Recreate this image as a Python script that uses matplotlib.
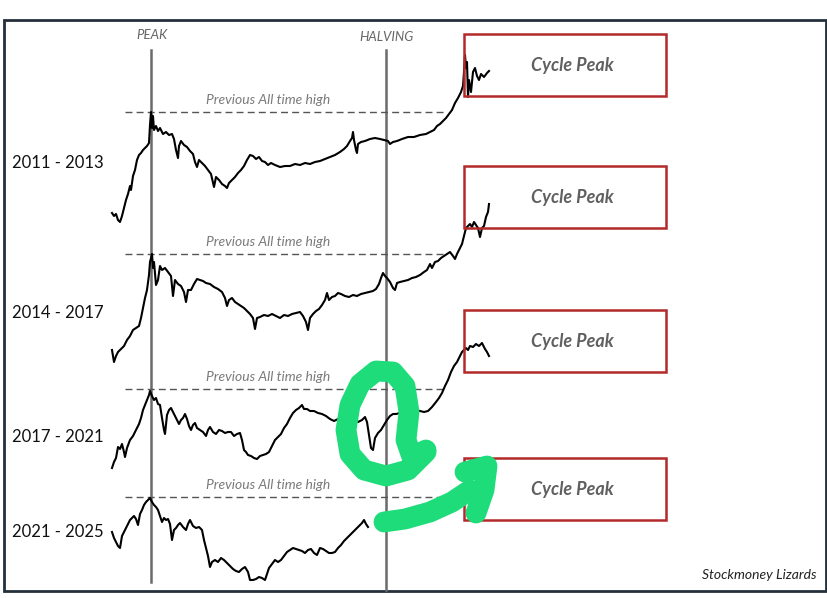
import matplotlib.pyplot as plt
from matplotlib.patches import Rectangle

plt.rcParams['font.family'] = ['Lato', 'DejaVu Sans']

# Price paths of each cycle (picture coordinates, y down)
c1 = [(112, 213), (114, 216), (116, 214), (118, 220), (120, 222), (122, 216), (124, 208), (126, 200),
      (128, 194), (130, 186), (131, 190), (133, 176), (135, 170), (137, 160), (139, 155), (141, 153),
      (143, 150), (145, 148), (147, 146), (149, 143), (150, 125), (151, 112), (152, 128), (153, 116),
      (154, 130), (156, 126), (158, 131), (160, 128), (163, 134), (166, 132), (169, 135), (172, 134),
      (174, 139), (176, 150), (178, 158), (179, 146), (181, 141), (184, 145), (187, 147), (190, 151),
      (193, 154), (195, 162), (197, 167), (199, 160), (202, 163), (205, 166), (208, 170), (211, 174),
      (213, 183), (214, 187), (216, 177), (219, 180), (222, 184), (225, 186), (227, 188), (229, 183),
      (232, 180), (235, 177), (238, 173), (241, 170), (244, 166), (247, 160), (250, 155), (253, 156),
      (256, 159), (259, 157), (262, 161), (265, 162), (268, 165), (271, 163), (275, 165), (280, 167),
      (285, 166), (290, 166), (295, 164), (300, 165), (305, 163), (310, 164), (315, 162), (320, 161),
      (325, 159), (330, 157), (335, 155), (340, 152), (344, 149), (347, 146), (350, 141), (352, 138),
      (353, 132), (354, 140), (356, 150), (357, 153), (358, 144), (361, 142), (365, 141), (370, 139),
      (375, 138), (380, 139), (384, 140), (388, 141), (390, 144), (393, 142), (397, 141), (402, 139),
      (408, 137), (414, 137), (420, 135), (426, 134), (430, 132), (434, 130), (437, 126), (440, 124),
      (443, 121), (446, 118), (449, 114), (452, 110), (455, 103), (458, 98), (461, 92), (463, 86),
      (464, 72), (465, 55), (466, 68), (467, 62), (468, 97), (469, 80), (471, 92), (473, 72),
      (475, 68), (477, 76), (479, 80), (481, 74), (484, 77), (487, 73), (489, 71)]

c2 = [(112, 350), (114, 362), (116, 356), (118, 352), (121, 349), (124, 346), (127, 340), (130, 336),
      (133, 330), (136, 328), (139, 326), (141, 318), (143, 308), (145, 298), (147, 290), (149, 275),
      (150, 262), (151, 258), (152, 254), (153, 268), (154, 262), (156, 285), (158, 280), (160, 266),
      (162, 270), (165, 268), (168, 272), (171, 276), (173, 296), (175, 280), (178, 284), (181, 286),
      (184, 292), (186, 302), (188, 290), (191, 290), (194, 284), (197, 279), (200, 280), (203, 281),
      (206, 283), (210, 284), (214, 287), (218, 289), (222, 292), (225, 298), (227, 306), (229, 300),
      (232, 298), (235, 302), (238, 304), (241, 306), (244, 308), (247, 311), (250, 314), (253, 318),
      (255, 329), (257, 318), (260, 317), (264, 315), (268, 316), (272, 314), (276, 316), (280, 318),
      (284, 315), (288, 316), (292, 314), (296, 313), (300, 312), (303, 316), (306, 322), (308, 330),
      (310, 318), (313, 314), (316, 311), (319, 309), (322, 305), (325, 300), (327, 293), (329, 300),
      (332, 297), (335, 296), (338, 293), (341, 294), (345, 296), (349, 297), (353, 295), (357, 296),
      (361, 294), (365, 293), (369, 292), (373, 291), (376, 289), (379, 284), (381, 278), (383, 273),
      (385, 276), (387, 278), (390, 282), (393, 288), (395, 290), (397, 283), (400, 282), (404, 281),
      (408, 280), (412, 278), (416, 277), (420, 275), (424, 272), (427, 270), (430, 264), (432, 268),
      (435, 262), (438, 261), (441, 258), (444, 256), (447, 254), (450, 252), (453, 256), (455, 259),
      (457, 254), (460, 248), (462, 244), (464, 236), (466, 228), (468, 226), (470, 224), (472, 227),
      (474, 222), (476, 225), (478, 228), (480, 237), (482, 228), (484, 226), (486, 217), (488, 212),
      (489, 204)]

c3 = [(112, 468), (114, 462), (116, 458), (118, 447), (120, 449), (122, 444), (124, 452), (125, 457),
      (127, 448), (130, 440), (133, 436), (136, 430), (139, 424), (141, 418), (143, 410), (145, 405),
      (147, 400), (149, 395), (150, 391), (152, 396), (154, 400), (156, 398), (158, 404), (160, 405),
      (162, 418), (164, 430), (165, 434), (167, 415), (169, 410), (171, 408), (173, 412), (175, 416),
      (177, 420), (179, 424), (181, 420), (183, 418), (185, 414), (187, 419), (189, 426), (191, 430),
      (193, 425), (195, 423), (197, 428), (200, 430), (203, 432), (206, 436), (208, 430), (210, 427),
      (213, 432), (216, 434), (219, 430), (222, 431), (225, 433), (228, 432), (231, 432), (234, 436),
      (237, 434), (240, 433), (242, 440), (244, 450), (246, 452), (248, 455), (251, 456), (254, 458),
      (257, 459), (260, 456), (263, 455), (266, 454), (269, 452), (272, 446), (275, 440), (278, 437),
      (281, 434), (284, 428), (287, 424), (290, 418), (293, 413), (296, 410), (299, 408), (302, 405),
      (304, 409), (307, 409), (310, 411), (314, 411), (318, 413), (322, 414), (326, 416), (330, 419),
      (334, 421), (338, 419), (342, 416), (346, 414), (350, 417), (354, 420), (358, 422), (362, 420),
      (365, 417), (367, 422), (369, 435), (371, 448), (373, 450), (375, 438), (378, 433), (381, 430),
      (384, 425), (387, 420), (390, 416), (393, 414), (396, 414), (400, 413), (404, 413), (408, 411),
      (412, 410), (416, 410), (420, 411), (424, 412), (428, 411), (432, 407), (436, 402), (439, 398),
      (442, 393), (445, 386), (448, 380), (451, 372), (454, 366), (457, 362), (460, 356), (462, 352),
      (464, 350), (466, 348), (468, 350), (470, 346), (473, 347), (476, 344), (479, 346), (482, 343),
      (485, 349), (487, 352), (489, 356)]

c4 = [(112, 532), (114, 538), (116, 542), (118, 546), (120, 548), (122, 536), (124, 532), (126, 528),
      (128, 524), (130, 520), (132, 518), (134, 516), (136, 519), (138, 525), (140, 514), (142, 510),
      (144, 505), (146, 502), (148, 500), (150, 498), (152, 502), (154, 505), (156, 507), (158, 510),
      (160, 516), (162, 522), (164, 518), (166, 520), (168, 519), (170, 524), (172, 540), (174, 530),
      (176, 528), (178, 525), (180, 523), (183, 527), (186, 530), (188, 524), (190, 520), (193, 526),
      (196, 528), (199, 527), (202, 530), (204, 540), (206, 548), (208, 556), (210, 567), (212, 562),
      (215, 560), (218, 562), (221, 558), (224, 560), (227, 563), (230, 566), (233, 569), (236, 571),
      (239, 572), (242, 569), (245, 567), (248, 572), (250, 580), (253, 580), (256, 579), (259, 577),
      (262, 578), (265, 580), (267, 574), (269, 568), (272, 564), (275, 560), (278, 562), (281, 560),
      (284, 556), (287, 552), (290, 550), (293, 548), (296, 549), (299, 550), (302, 551), (305, 553),
      (308, 550), (311, 549), (314, 553), (317, 555), (320, 548), (323, 549), (326, 551), (329, 553),
      (332, 553), (335, 552), (338, 548), (341, 545), (344, 541), (347, 538), (350, 535), (353, 532),
      (356, 529), (359, 526), (362, 523), (364, 520), (366, 524), (368, 527)]

cycles = ["2011 - 2013", "2014 - 2017", "2017 - 2021", "2021 - 2025"]
label_y = [163, 313, 437, 532]
ath_y = [112, 254, 389, 497]
box_top = [34, 166, 310, 458]
box_bottom = [96, 228, 372, 520]

fig = plt.figure(figsize=(8.28, 5.98), dpi=100)
ax = fig.add_axes([0, 0, 1, 1])
ax.set_xlim(0, 828)
ax.set_ylim(598, 0)
ax.axis('off')

# frame
ax.add_patch(Rectangle((4, 20), 822, 571, fill=False, ec='#25303c', lw=2, zorder=1))

# peak / halving verticals
ax.plot([151, 151], [50, 582], color='#6b6b6b', lw=1.8, zorder=2)
ax.plot([386, 386], [50, 590], color='#6b6b6b', lw=1.8, zorder=2)
ax.text(152, 35, "PEAK", ha='center', va='center', style='italic', fontsize=9.5, color='#666666')
ax.text(386, 37, "HALVING", ha='center', va='center', style='italic', fontsize=9.5, color='#666666')

for path in [c1, c2, c3, c4]:
    xs = [p[0] for p in path]
    ys = [p[1] for p in path]
    ax.plot(xs, ys, color='black', lw=1.5, zorder=3)

for name, ly, ay, bt, bb in zip(cycles, label_y, ath_y, box_top, box_bottom):
    ax.text(12, ly, name, ha='left', va='center', fontsize=12, color='#111111')
    ax.plot([125, 445], [ay, ay], color='#555555', lw=1, ls=(0, (5, 3)), zorder=2)
    ax.text(268, ay - 12, "Previous All time high", ha='center', va='center',
            style='italic', fontsize=10, color='#7a7a7a')
    ax.add_patch(Rectangle((464, bt), 202, bb - bt, fill=False, ec='#b22a2a', lw=1.8, zorder=4))
    ax.text(572, (bt + bb) / 2, "Cycle Peak", ha='center', va='center', style='italic',
            weight='bold', fontsize=13, color='#606060', zorder=5)

ax.text(817, 575, "Stockmoney Lizards", ha='right', va='center', style='italic',
        fontsize=10, color='#222222')

# green hand drawn marks
green = '#1fdc7a'
loop_x = [426, 412, 406, 409, 405, 393, 376, 360, 350, 346, 350, 364, 386, 408, 426]
loop_y = [450, 457, 440, 412, 386, 372, 371, 384, 405, 430, 454, 470, 476, 470, 452]
ax.plot(loop_x, loop_y, color=green, lw=15, solid_capstyle='round', solid_joinstyle='round', zorder=6)
arr_x = [384, 405, 430, 452, 470]
arr_y = [522, 519, 512, 502, 490]
ax.plot(arr_x, arr_y, color=green, lw=15, solid_capstyle='round', solid_joinstyle='round', zorder=6)
head_x = [465, 487, 484, 476]
head_y = [472, 466, 490, 513]
ax.plot(head_x, head_y, color=green, lw=15, solid_capstyle='round', solid_joinstyle='round', zorder=6)

fig.savefig("out.png", dpi=100, facecolor='white')
